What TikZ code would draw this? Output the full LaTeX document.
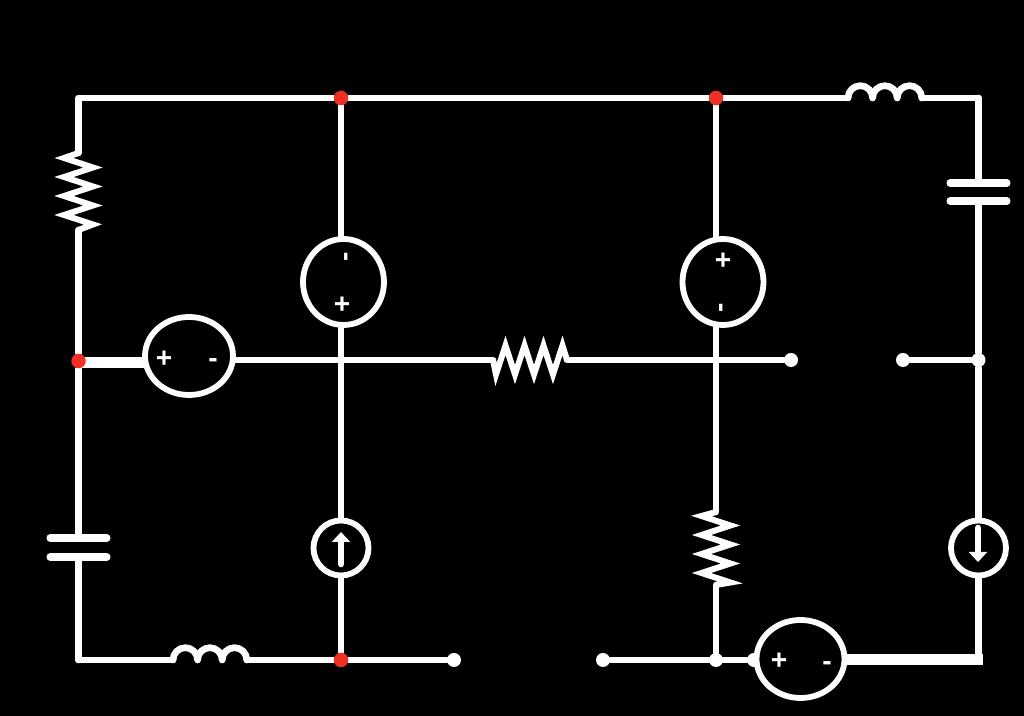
\documentclass[tikz,border=0pt]{standalone}
\usepackage{fontspec}
\setsansfont{Liberation Sans}
\usetikzlibrary{arrows.meta,shapes.geometric,backgrounds}
\tikzset{
	wire/.style={draw=white,line width=1.9pt,line cap=round,line join=round},
	fatwire/.style={draw=white,line width=3.4pt},
	zigzag/.style={draw=white,line width=1.7pt,line join=miter,miter limit=12},
	plate/.style={draw=white,line width=2pt,line cap=round},
	dot/.style={circle,fill=white,minimum size=.14cm,inner sep=0pt},
	reddot/.style={circle,fill={rgb,255:red,238;green,49;blue,36},minimum size=.145cm,inner sep=0pt},
	vsource/.style={ellipse,draw=white,fill=black,line width=1.65pt,inner sep=0pt},
	isource/.style={circle,draw=white,fill=black,line width=1.65pt,minimum size=.55cm,inner sep=0pt},
	sign/.style={text=white,inner sep=0pt,font=\sffamily\bfseries\fontsize{8}{8}\selectfont},
}

\begin{document}
\begin{tikzpicture}[>={Triangle[length=.1cm,width=.18cm]}]

\coordinate (cTL) at (.785,6.18);
\coordinate (cTR) at (9.785,6.18);
\coordinate (cBL) at (.785,.56);
\coordinate (cBR) at (9.785,.57);

\node[reddot] (nA) at (3.41,6.18) {};
\node[reddot] (nB) at (7.16,6.18) {};
\node[reddot] (nC) at (.785,3.55) {};
\node[reddot] (nD) at (3.41,.56) {};
\node[dot] (nE) at (7.16,.56) {};
\node[dot] (nF) at (9.785,3.56) {};

\node[dot] (tA) at (4.54,.56) {};
\node[dot] (tB) at (6.03,.56) {};
\node[dot] (tC) at (7.91,3.56) {};
\node[dot] (tD) at (9.03,3.56) {};
\node[dot] (tE) at (7.54,.56) {};

\node[vsource,minimum width=.81cm,minimum height=.86cm] (vA) at (3.435,4.34) {};
\node[vsource,minimum width=.81cm,minimum height=.86cm] (vB) at (7.23,4.34) {};
\node[vsource,minimum width=.88cm,minimum height=.78cm] (vC) at (1.89,3.60) {};
\node[vsource,minimum width=.88cm,minimum height=.78cm] (vD) at (8.005,.57) {};

\node[isource] (iA) at (3.41,1.68) {};
\node[isource] (iB) at (9.785,1.68) {};

% signs
\node[sign] (pA) at (3.42,4.11) {+};
\node[sign,rotate=90] (mA) at (3.49,4.59) {-};
\node[sign] (pB) at (7.23,4.55) {+};
\node[sign,rotate=90] (mB) at (7.24,4.08) {-};
\node[sign] (pC) at (1.64,3.57) {+};
\node[sign] (mC) at (2.13,3.53) {-};
\node[sign] (pD) at (7.79,.55) {+};
\node[sign] (mD) at (8.27,.50) {-};

% current arrows
\coordinate (aA) at (3.41,1.52);
\coordinate (aB) at (3.41,1.84);
\coordinate (aC) at (9.78,1.88);
\coordinate (aD) at (9.78,1.54);
\draw[wire,->] (aA) -- (aB);
\draw[wire,->] (aC) -- (aD);

\begin{scope}[on background layer]
\fill[black] (0,0) rectangle (10.24,7.16);

% left branch
\coordinate (rAa) at (.785,5.63);
\coordinate (rAb) at (.785,4.86);
\coordinate (cAa) at (.785,1.78);
\coordinate (cAb) at (.785,1.59);
\draw[wire] (cBL) -- (cAb);
\draw[wire] (cAa) -- (nC);
\draw[wire] (nC) -- (rAb);
\draw[wire] (rAa) -- (cTL) -- (nA);
\draw[zigzag] (rAa) -- ++(-.145,-.05) -- ++(.29,-.095) -- ++(-.29,-.095) -- ++(.29,-.095) -- ++(-.29,-.095) -- ++(.29,-.095) -- ++(-.29,-.095) -- ++(.29,-.095) -- (rAb);
\draw[plate] (.5,1.78) -- (1.07,1.78);
\draw[plate] (.5,1.59) -- (1.07,1.59);

% top
\coordinate (lAa) at (8.48,6.18);
\coordinate (lAb) at (9.22,6.18);
\draw[wire] (nA) -- (nB);
\draw[wire] (nB) -- (lAa);
\draw[wire] (lAa) arc(180:0:.123) arc(180:0:.123) arc(180:0:.123) -- (lAb);
\draw[wire] (lAb) -- (cTR);

% right branch
\coordinate (cBa) at (9.785,5.33);
\coordinate (cBb) at (9.785,5.15);
\draw[wire] (cTR) -- (cBa);
\draw[wire] (cBb) -- (nF);
\draw[wire] (nF) -- (iB);
\draw[wire] (iB) -- (cBR);
\draw[plate] (9.5,5.33) -- (10.07,5.33);
\draw[plate] (9.5,5.15) -- (10.07,5.15);
\draw[fatwire] (vD |- 0,.565) -- (9.83,.565);

% bottom
\coordinate (lBa) at (1.73,.56);
\coordinate (lBb) at (2.47,.56);
\draw[wire] (cBL) -- (lBa);
\draw[wire] (lBa) arc(180:0:.123) arc(180:0:.123) arc(180:0:.123) -- (lBb);
\draw[wire] (lBb) -- (nD);
\draw[wire] (nD) -- (tA);
\draw[wire] (tB) -- (nE);
\draw[wire] (nE) -- (tE);

% first column
\draw[wire] (nA) -- (nA |- vA);
\draw[wire] (nA |- vA) -- (iA);
\draw[wire] (iA) -- (nD);

% second column
\coordinate (rBa) at (7.16,2.04);
\coordinate (rBb) at (7.16,1.31);
\draw[wire] (nB) -- (nB |- vB);
\draw[wire] (nB |- vB) -- (rBa);
\draw[zigzag] (rBa) -- ++(-.145,-.04) -- ++(.29,-.095) -- ++(-.29,-.095) -- ++(.29,-.095) -- ++(-.29,-.095) -- ++(.29,-.095) -- ++(-.29,-.095) -- ++(.29,-.095) -- (rBb);
\draw[wire] (rBb) -- (nE);

% middle
\coordinate (rCa) at (4.93,3.56);
\coordinate (rCb) at (5.67,3.56);
\draw[fatwire] (nC |- 0,3.535) -- (vC |- 0,3.535);
\draw[wire] (vC |- 0,3.56) -- (rCa);
\draw[zigzag] (rCa) -- ++(.03,-.145) -- ++(.095,.29) -- ++(.095,-.29) -- ++(.095,.29) -- ++(.095,-.29) -- ++(.095,.29) -- ++(.095,-.29) -- ++(.095,.29) -- (rCb);
\draw[wire] (rCb) -- (tC);
\draw[wire] (tD) -- (nF);
\end{scope}

\end{tikzpicture}
\end{document}
